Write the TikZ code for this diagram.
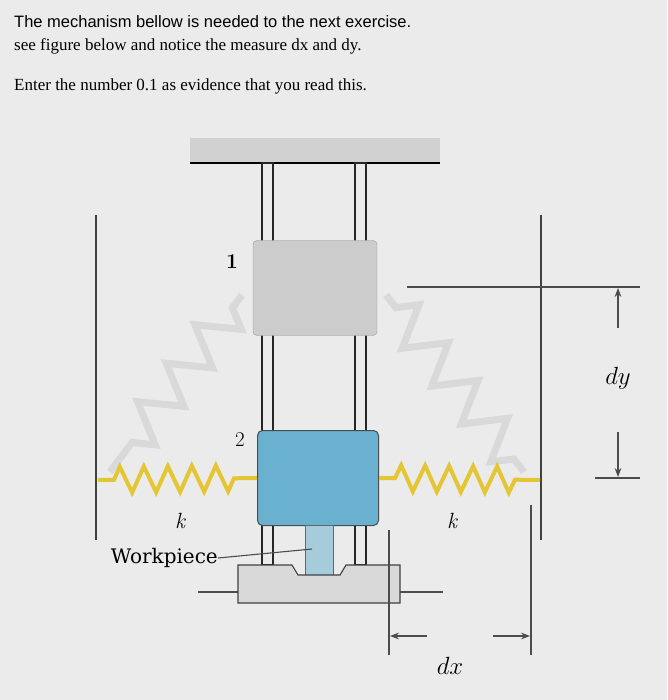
\documentclass[tikz,border=0pt]{standalone}
\usepackage{fontspec}
\usetikzlibrary{decorations.pathmorphing,arrows.meta}
\begin{document}
\begin{tikzpicture}[x=1pt,y=-1pt,
  wall/.style={line width=1.4pt,draw=black!75},
  dim/.style={line width=1.1pt,draw=black!70},
  rod/.style={draw=black!85,line width=1.5pt,fill=black!8},
  hspring/.style={draw=yellow!55!brown,line width=4pt,decorate,decoration={zigzag,segment length=24pt,amplitude=13pt,pre length=16pt,post length=16pt}},
  dspring/.style={draw=black!15,line width=7pt,decorate,decoration={zigzag,segment length=48pt,amplitude=20pt,pre length=16pt,post length=16pt}},
  lbl/.style={font=\fontsize{21}{21}\selectfont,inner sep=0pt}]
\fill[black!8] (0,0) rectangle (667,700);
\fill[white!92!black] (0,0) rectangle (667,110);
\useasboundingbox (0,0) rectangle (667,700);
\node[anchor=west,inner sep=0pt,font=\fontsize{16.5}{16.5}\selectfont\fontspec{Liberation Sans}] (t1) at (14,22) {The mechanism bellow is needed to the next exercise.};
\node[anchor=west,inner sep=0pt,font=\fontsize{17}{17}\selectfont\fontspec{Liberation Serif}] (t2) at (14,46) {see figure below and notice the measure dx and dy.};
\node[anchor=west,inner sep=0pt,font=\fontsize{17}{17}\selectfont\fontspec{Liberation Serif}] (t3) at (14,86) {Enter the number 0.1 as evidence that you read this.};
% ceiling
\fill[black!18] (190,138) rectangle (440,163);
\draw[line width=2.5pt] (190,163) -- (440,163);
% rods
\draw[rod] (262,163) rectangle (273,565);
\draw[rod] (355,163) rectangle (366,565);
% diagonal springs
\coordinate (dl1) at (242,295); \coordinate (dl2) at (110,472);
\coordinate (dr1) at (386,295); \coordinate (dr2) at (524,472);
\draw[dspring] (dl1) -- (dl2);
\draw[dspring] (dr1) -- (dr2);
% walls
\draw[wall] (96,215) -- (96,540);
\draw[wall] (541,215) -- (541,540);
% blocks
\node[draw=black!40,fill=black!20,rounded corners=4pt,minimum width=124pt,minimum height=95pt,inner sep=0pt] (b1) at (315,288) {};
\node[draw=black!70,line width=1pt,fill=cyan!45!teal!70,rounded corners=5pt,minimum width=121pt,minimum height=95pt,inner sep=0pt] (b2) at (318,478) {};
\node[lbl,font=\fontsize{21}{21}\selectfont\bfseries] (n1) at (232,262) {1};
\node[lbl] (n2) at (240,440) {2};
% horizontal springs
\coordinate (hl) at (98,480); \coordinate (hr) at (540,480);
\draw[hspring] (hl) -- (b2.west);
\draw[hspring] (b2.east) -- (hr);
\node[lbl,font=\fontsize{22}{22}\selectfont\itshape] (k1) at (180,521) {k};
\node[lbl,font=\fontsize{22}{22}\selectfont\itshape] (k2) at (452,521) {k};
% workpiece and base
\draw[draw=black!60,fill=cyan!25!teal!40] (305,525) rectangle (333,575);
\draw[draw=black!75,line width=1.1pt,fill=black!15] (238,565) -- (292,565) -- (298,575) -- (340,575) -- (346,565) -- (400,565) -- (400,603) -- (238,603) -- cycle;
\coordinate (bl) at (198,592); \coordinate (br) at (443,592);
\draw[dim] (bl) -- (238,592); \draw[dim] (400,592) -- (br);
\node[lbl,anchor=east,font=\fontsize{20}{20}\selectfont\fontspec{DejaVu Serif}] (wp) at (218,558) {Workpiece};
\coordinate (wpe) at (312,549);
\draw[dim] (wp.east) -- (wpe);
% dx
\coordinate (dxa) at (389,530); \coordinate (dxb) at (389,655);
\coordinate (dxc) at (531,505); \coordinate (dxd) at (531,655);
\draw[dim] (dxa) -- (dxb); \draw[dim] (dxc) -- (dxd);
\draw[dim,-{Stealth[length=9pt]}] (427,636) -- (390,636);
\draw[dim,-{Stealth[length=9pt]}] (493,636) -- (530,636);
\node[lbl,font=\fontsize{26}{26}\selectfont] (dx) at (450,666) {$dx$};
% dy
\coordinate (dya) at (407,287); \coordinate (dyb) at (640,287);
\coordinate (dyc) at (595,478); \coordinate (dyd) at (640,478);
\draw[dim] (dya) -- (dyb); \draw[dim] (dyc) -- (dyd);
\draw[dim,-{Stealth[length=9pt]}] (618,328) -- (618,288);
\draw[dim,-{Stealth[length=9pt]}] (618,432) -- (618,477);
\node[lbl,font=\fontsize{26}{26}\selectfont] (dy) at (618,378) {$dy$};
\end{tikzpicture}
\end{document}
